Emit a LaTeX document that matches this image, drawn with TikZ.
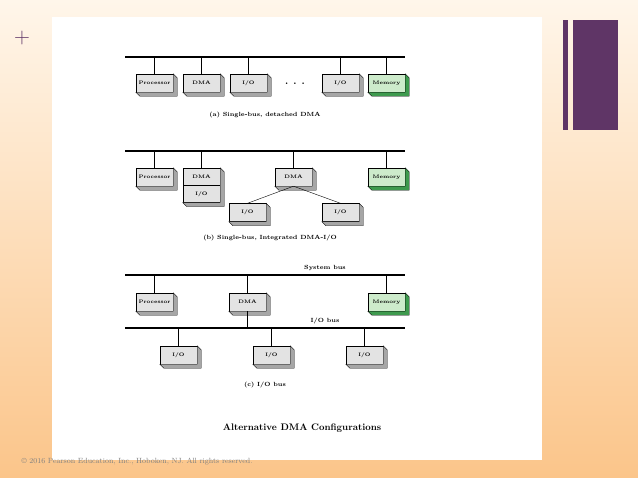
\documentclass[tikz,border=0pt]{standalone}
\usepackage{tikz}
\usepackage{xcolor}
\usetikzlibrary{calc}
\usetikzlibrary{positioning}
\definecolor{slidetop}{HTML}{FFF6EA}
\definecolor{slidebot}{HTML}{FBC58A}
\definecolor{plum}{HTML}{5F3566}
\definecolor{memgreen}{HTML}{CDEBCB}
\definecolor{memdark}{HTML}{3E9A4E}
\tikzset{
  unit/.style={draw, fill=gray!22, minimum width=37pt, minimum height=18pt, inner sep=0pt, font=\fontsize{5}{6}\selectfont\bfseries},
  mem/.style={unit, fill=memgreen},
  bus/.style={line width=1.8pt},
  drop/.style={line width=0.4pt},
  caption/.style={font=\fontsize{6}{7}\selectfont\bfseries}
}
\newcommand{\depth}[2]{%
  \fill[#2, draw=black, line width=0.3pt] (#1.north east) -- ($(#1.north east)+(4,4)$) -- ($(#1.south east)+(4,4)$) -- ($(#1.south west)+(4,4)$) -- (#1.south west) -- (#1.south east) -- cycle;}
\begin{document}
\begin{tikzpicture}[x=1pt,y=-1pt]
\shade[top color=slidetop, bottom color=slidebot] (0,0) rectangle (638,478);
\useasboundingbox (0,0) rectangle (638,478);
\fill[white] (52,17) rectangle (542,460);
\fill[plum] (563,20) rectangle (568,130);
\fill[plum] (573,20) rectangle (618,130);
\node[text=plum, font=\fontsize{22}{22}\selectfont] (plus) at (22,38) {+};
\node[text=gray, font=\fontsize{7.5}{8}\selectfont, anchor=west] (copy) at (18,462) {\copyright{} 2016 Pearson Education, Inc., Hoboken, NJ. All rights reserved.};

% (a) single bus, detached DMA
\coordinate (aL) at (125,57); \coordinate (aR) at (405,57);
\draw[bus] (aL) -- (aR);
\node[unit] (aP) at (154.5,83) {Processor};
\node[unit] (aD) at (201.5,83) {DMA};
\node[unit] (aI1) at (248.5,83) {I/O};
\node[font=\bfseries] (adots) at (295,84) {. . .};
\node[unit] (aI2) at (340.5,83) {I/O};
\node[mem] (aM) at (386.5,83) {Memory};
\foreach \n in {aP,aD,aI1,aI2} {\depth{\n}{gray!70}}
\depth{aM}{memdark}
\foreach \n in {aP,aD,aI1,aI2,aM} {\draw[drop] (\n.north) -- (\n.north |- aL);}
\node[caption] (acap) at (265,115) {(a) Single-bus, detached DMA};

% (b) single bus, integrated DMA-I/O
\coordinate (bL) at (125,151); \coordinate (bR) at (405,151);
\draw[bus] (bL) -- (bR);
\node[unit] (bP) at (154.5,177) {Processor};
\node[unit, minimum height=17pt] (bD1) at (201.5,176.5) {DMA};
\node[unit, minimum height=17pt, below=0pt of bD1] (bI1) {I/O};
\node[unit] (bD2) at (293.5,177) {DMA};
\node[unit] (bI2) at (247.5,212.5) {I/O};
\node[unit] (bI3) at (340.5,212.5) {I/O};
\node[mem] (bM) at (386.5,177) {Memory};
\foreach \n in {bP,bD2,bI2,bI3} {\depth{\n}{gray!70}}
\fill[gray!70, draw=black, line width=0.3pt] (bD1.north east) -- ($(bD1.north east)+(4,4)$) -- ($(bI1.south east)+(4,4)$) -- ($(bI1.south west)+(4,4)$) -- (bI1.south west) -- (bI1.south east) -- cycle;
\depth{bM}{memdark}
\foreach \n in {bP,bD1,bD2,bM} {\draw[drop] (\n.north) -- (\n.north |- bL);}
\draw[drop] (bD2.south) -- (bI2.north);
\draw[drop] (bD2.south) -- (bI3.north);
\node[caption] (bcap) at (270,238) {(b) Single-bus, Integrated DMA-I/O};

% (c) I/O bus
\coordinate (cL) at (125,275); \coordinate (cR) at (405,275);
\coordinate (dL) at (125,328); \coordinate (dR) at (405,328);
\draw[bus] (cL) -- (cR);
\draw[bus] (dL) -- (dR);
\node[caption] (sysbus) at (325,268) {System bus};
\node[caption] (iobus) at (325,321) {I/O bus};
\node[unit] (cP) at (154.5,302) {Processor};
\node[unit] (cD) at (247.5,302) {DMA};
\node[mem] (cM) at (386.5,302) {Memory};
\node[unit] (cI1) at (178.5,355) {I/O};
\node[unit] (cI2) at (271.5,355) {I/O};
\node[unit] (cI3) at (364.5,355) {I/O};
\foreach \n in {cP,cD,cI1,cI2,cI3} {\depth{\n}{gray!70}}
\depth{cM}{memdark}
\foreach \n in {cP,cD,cM} {\draw[drop] (\n.north) -- (\n.north |- cL);}
\draw[drop] (cD.south) -- (cD.south |- dL);
\foreach \n in {cI1,cI2,cI3} {\draw[drop] (\n.north) -- (\n.north |- dL);}
\node[caption] (ccap) at (265,385) {(c) I/O bus};

\node[font=\fontsize{9.5}{11}\selectfont\bfseries] (title) at (302,428) {Alternative DMA Configurations};
\end{tikzpicture}
\end{document}
